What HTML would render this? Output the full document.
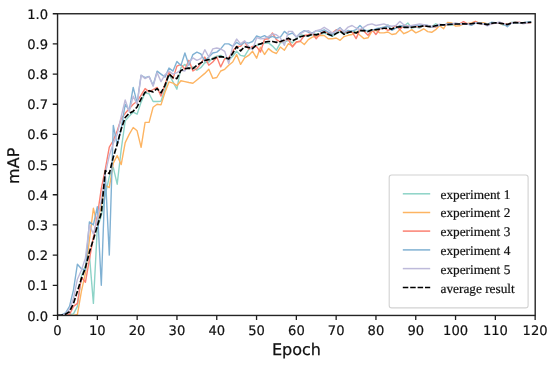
<!DOCTYPE html>
<html><head><meta charset="utf-8"><title>mAP vs Epoch</title>
<style>
html,body{margin:0;padding:0;background:#fff}
text{text-rendering:geometricPrecision}
body{width:550px;height:366px;position:relative;overflow:hidden}
</style></head><body>
<svg width="550" height="366" viewBox="0 0 550 366" style="position:absolute;left:0;top:0">
<defs><clipPath id="cp"><rect x="57.55" y="13.75" width="477.65" height="301.7"/></clipPath></defs>
<g clip-path="url(#cp)" fill="none" stroke-linejoin="round" stroke-width="1.4">
<polyline stroke="#8dd3c7" points="57.5,315.4 61.5,315.4 65.5,315.4 69.5,314.8 73.5,313.9 77.4,306.4 81.4,276.2 85.4,265.7 89.4,255.1 93.4,303.4 97.3,228.0 101.3,215.9 105.3,194.8 109.3,176.7 113.3,167.6 117.2,184.2 121.2,149.5 125.2,120.9 129.2,116.3 133.2,112.1 137.1,114.2 141.1,102.1 145.1,92.8 149.1,93.7 153.1,101.5 157.1,101.5 161.0,101.2 165.0,89.2 169.0,74.1 173.0,81.9 176.9,89.2 180.9,67.7 184.9,64.4 188.9,68.5 192.9,66.9 196.9,70.2 200.8,67.7 204.8,62.8 208.8,62.0 212.8,57.9 216.8,56.2 220.7,55.4 224.7,57.9 228.7,60.3 232.7,56.2 236.6,51.3 240.6,55.4 244.6,56.2 248.6,49.7 252.6,47.2 256.6,45.5 260.5,44.2 264.5,43.4 268.5,42.9 272.5,46.1 276.4,50.2 280.4,42.9 284.4,42.0 288.4,40.4 292.4,42.9 296.4,38.0 300.3,34.7 304.3,35.5 308.3,36.3 312.3,34.7 316.2,33.9 320.2,34.7 324.2,33.0 328.2,34.7 332.2,36.3 336.2,33.9 340.1,31.7 344.1,34.2 348.1,32.9 352.1,31.2 356.1,32.0 360.0,30.4 364.0,31.2 368.0,30.4 372.0,29.6 375.9,29.6 379.9,28.8 383.9,28.0 387.9,24.7 391.9,29.6 395.9,28.0 399.8,27.1 403.8,26.3 407.8,23.0 411.8,28.0 415.8,27.1 419.7,28.0 423.7,25.5 427.7,26.3 431.7,26.7 435.7,23.8 439.6,25.1 443.6,24.9 447.6,24.3 451.6,25.2 455.6,24.3 459.5,24.3 463.5,24.1 467.5,24.1 471.5,24.1 475.4,23.1 479.4,23.3 483.4,23.0 487.4,24.5 491.4,23.3 495.4,23.2 499.3,23.0 503.3,25.1 507.3,24.7 511.3,22.4 515.2,22.3 519.2,22.9 523.2,23.1 527.2,22.5 531.2,21.9"/>
<polyline stroke="#fdb462" points="57.5,315.4 61.5,315.4 65.5,315.4 69.5,315.4 73.5,315.4 77.4,314.5 81.4,291.3 85.4,273.2 89.4,240.0 93.4,208.3 97.3,224.9 101.3,203.8 105.3,185.7 109.3,187.5 113.3,163.1 117.2,155.5 121.2,164.6 125.2,142.6 129.2,134.4 133.2,127.5 137.1,130.8 141.1,147.4 145.1,122.4 149.1,122.4 153.1,107.3 157.1,104.3 161.0,104.9 165.0,92.2 169.0,81.9 173.0,83.1 176.9,85.7 180.9,80.8 184.9,81.6 188.9,82.5 192.9,83.3 196.9,80.0 200.8,76.7 204.8,73.4 208.8,69.3 212.8,78.4 216.8,77.5 220.7,71.0 224.7,69.3 228.7,65.2 232.7,62.0 236.6,54.6 240.6,64.4 244.6,57.9 248.6,55.4 252.6,51.3 256.6,58.2 260.5,47.1 264.5,54.5 268.5,48.6 272.5,51.9 276.4,53.5 280.4,47.0 284.4,50.2 288.4,43.7 292.4,46.1 296.4,42.0 300.3,41.2 304.3,44.5 308.3,39.6 312.3,37.1 316.2,36.3 320.2,35.5 324.2,35.5 328.2,38.8 332.2,38.8 336.2,38.0 340.1,40.3 344.1,36.6 348.1,35.3 352.1,34.5 356.1,32.0 360.0,35.3 364.0,38.6 368.0,37.8 372.0,31.2 375.9,30.4 379.9,32.9 383.9,32.9 387.9,32.0 391.9,34.5 395.9,33.7 399.8,29.6 403.8,33.7 407.8,32.0 411.8,29.6 415.8,32.9 419.7,31.2 423.7,28.8 427.7,31.6 431.7,32.3 435.7,29.7 439.6,25.6 443.6,28.7 447.6,22.4 451.6,22.9 455.6,26.1 459.5,25.8 463.5,23.8 467.5,23.5 471.5,23.0 475.4,21.5 479.4,23.2 483.4,22.7 487.4,23.8 491.4,23.4 495.4,23.0 499.3,23.3 503.3,23.7 507.3,24.3 511.3,23.0 515.2,22.7 519.2,23.0 523.2,22.8 527.2,22.8 531.2,22.5"/>
<polyline stroke="#fb8072" points="57.5,315.4 61.5,315.4 65.5,315.4 69.5,314.5 73.5,306.4 77.4,303.4 81.4,277.4 85.4,282.3 89.4,259.6 93.4,237.0 97.3,215.9 101.3,188.7 105.3,169.1 109.3,147.1 113.3,140.5 117.2,130.8 121.2,118.7 125.2,113.3 129.2,108.8 133.2,104.3 137.1,101.2 141.1,95.2 145.1,88.6 149.1,91.9 153.1,89.5 157.1,87.4 161.0,96.1 165.0,84.6 169.0,72.3 173.0,78.6 176.9,66.1 180.9,64.4 184.9,69.3 188.9,60.3 192.9,71.0 196.9,68.5 200.8,63.6 204.8,57.0 208.8,65.2 212.8,62.0 216.8,57.0 220.7,66.9 224.7,58.7 228.7,57.9 232.7,51.3 236.6,46.4 240.6,46.4 244.6,41.5 248.6,48.9 252.6,46.4 256.6,46.7 260.5,52.0 264.5,39.3 268.5,38.8 272.5,33.0 276.4,39.6 280.4,42.0 284.4,40.4 288.4,39.6 292.4,47.0 296.4,42.0 300.3,41.2 304.3,35.5 308.3,34.7 312.3,33.0 316.2,38.8 320.2,33.9 324.2,31.4 328.2,33.0 332.2,33.0 336.2,29.8 340.1,30.5 344.1,33.0 348.1,31.2 352.1,32.0 356.1,38.6 360.0,29.6 364.0,31.2 368.0,35.3 372.0,29.6 375.9,34.5 379.9,28.8 383.9,28.0 387.9,30.4 391.9,28.8 395.9,25.5 399.8,29.6 403.8,25.5 407.8,26.3 411.8,27.1 415.8,26.3 419.7,27.1 423.7,25.5 427.7,26.3 431.7,26.7 435.7,27.1 439.6,24.9 443.6,25.0 447.6,24.4 451.6,24.1 455.6,23.8 459.5,23.8 463.5,21.7 467.5,23.9 471.5,23.9 475.4,21.5 479.4,23.6 483.4,23.8 487.4,25.0 491.4,23.6 495.4,23.3 499.3,23.3 503.3,23.5 507.3,24.5 511.3,22.9 515.2,22.5 519.2,22.1 523.2,23.2 527.2,22.9 531.2,22.5"/>
<polyline stroke="#80b1d3" points="57.5,315.4 61.5,314.8 65.5,313.0 69.5,306.4 73.5,289.8 77.4,264.2 81.4,268.7 85.4,270.2 89.4,221.9 93.4,224.9 97.3,206.8 101.3,285.3 105.3,173.7 109.3,255.1 113.3,125.4 117.2,145.0 121.2,128.4 125.2,104.3 129.2,110.3 133.2,87.4 137.1,102.8 141.1,75.3 145.1,77.7 149.1,76.5 153.1,85.3 157.1,71.1 161.0,74.1 165.0,77.1 169.0,68.1 173.0,71.1 176.9,61.4 180.9,65.6 184.9,53.0 188.9,65.2 192.9,54.6 196.9,52.1 200.8,53.8 204.8,61.1 208.8,57.0 212.8,53.0 216.8,52.1 220.7,48.9 224.7,43.9 228.7,43.9 232.7,46.4 236.6,42.3 240.6,44.8 244.6,42.3 248.6,43.1 252.6,41.5 256.6,36.0 260.5,37.3 264.5,35.6 268.5,38.0 272.5,36.3 276.4,38.0 280.4,37.1 284.4,31.4 288.4,34.7 292.4,33.0 296.4,37.1 300.3,33.0 304.3,30.6 308.3,32.2 312.3,33.0 316.2,30.6 320.2,31.4 324.2,29.8 328.2,32.2 332.2,34.7 336.2,30.6 340.1,27.6 344.1,32.5 348.1,30.4 352.1,31.2 356.1,29.6 360.0,25.5 364.0,29.6 368.0,31.2 372.0,30.4 375.9,28.8 379.9,28.0 383.9,27.1 387.9,26.3 391.9,30.4 395.9,28.0 399.8,25.5 403.8,26.3 407.8,27.1 411.8,26.3 415.8,25.5 419.7,25.5 423.7,24.7 427.7,25.5 431.7,27.0 435.7,26.2 439.6,25.2 443.6,24.9 447.6,24.0 451.6,23.9 455.6,23.8 459.5,24.0 463.5,23.5 467.5,24.2 471.5,25.4 475.4,22.8 479.4,23.2 483.4,23.7 487.4,24.3 491.4,22.3 495.4,22.7 499.3,22.7 503.3,23.6 507.3,26.8 511.3,23.1 515.2,22.8 519.2,23.1 523.2,22.6 527.2,22.2 531.2,21.8"/>
<polyline stroke="#bebada" points="57.5,315.4 61.5,315.1 65.5,313.9 69.5,309.4 73.5,298.3 77.4,279.2 81.4,270.2 85.4,258.1 89.4,224.9 93.4,234.0 97.3,218.9 101.3,200.8 105.3,173.7 109.3,155.5 113.3,143.5 117.2,134.4 121.2,116.3 125.2,100.0 129.2,111.5 133.2,96.1 137.1,104.3 141.1,75.3 145.1,78.6 149.1,76.5 153.1,86.2 157.1,72.6 161.0,81.6 165.0,74.7 169.0,71.1 173.0,74.1 176.9,72.6 180.9,70.2 184.9,71.0 188.9,62.8 192.9,57.9 196.9,60.3 200.8,58.7 204.8,49.7 208.8,57.0 212.8,48.9 216.8,48.0 220.7,48.9 224.7,51.3 228.7,63.6 232.7,46.4 236.6,39.0 240.6,43.9 244.6,40.7 248.6,46.4 252.6,49.7 256.6,37.7 260.5,38.9 264.5,38.5 268.5,36.3 272.5,33.9 276.4,34.7 280.4,38.0 284.4,45.3 288.4,31.4 292.4,31.4 296.4,37.1 300.3,33.9 304.3,31.4 308.3,30.6 312.3,33.9 316.2,30.6 320.2,29.8 324.2,27.3 328.2,29.8 332.2,33.0 336.2,31.4 340.1,28.0 344.1,31.3 348.1,27.1 352.1,25.5 356.1,28.0 360.0,29.6 364.0,27.1 368.0,24.7 372.0,23.9 375.9,25.5 379.9,24.7 383.9,23.9 387.9,25.5 391.9,26.3 395.9,25.5 399.8,21.4 403.8,24.7 407.8,26.3 411.8,25.5 415.8,24.7 419.7,23.9 423.7,24.7 427.7,25.5 431.7,26.4 435.7,25.8 439.6,24.1 443.6,24.9 447.6,24.2 451.6,24.0 455.6,22.8 459.5,24.0 463.5,24.0 467.5,24.3 471.5,24.1 475.4,22.7 479.4,23.3 483.4,24.0 487.4,25.9 491.4,23.8 495.4,23.1 499.3,22.0 503.3,23.6 507.3,24.6 511.3,23.3 515.2,22.4 519.2,22.4 523.2,23.8 527.2,22.9 531.2,22.6"/>
<polyline stroke="#000" stroke-width="1.65" stroke-dasharray="5.5 1.9" points="57.5,315.4 61.5,315.1 65.5,314.2 69.5,311.8 73.5,303.4 77.4,291.3 81.4,278.6 85.4,267.8 89.4,252.1 93.4,239.4 97.3,226.1 101.3,212.9 105.3,170.6 109.3,173.7 113.3,157.1 117.2,144.4 121.2,129.0 125.2,117.5 129.2,113.3 133.2,111.2 137.1,107.0 141.1,98.8 145.1,92.2 149.1,90.7 153.1,91.9 157.1,88.6 161.0,92.8 165.0,85.3 169.0,74.1 173.0,77.7 176.9,78.6 180.9,70.5 184.9,68.7 188.9,68.1 192.9,68.7 196.9,65.3 200.8,62.9 204.8,60.5 208.8,59.6 212.8,59.0 216.8,57.2 220.7,56.6 224.7,57.2 228.7,59.0 232.7,53.3 236.6,46.6 240.6,50.9 244.6,46.6 248.6,47.5 252.6,48.4 256.6,44.8 260.5,43.9 264.5,42.1 268.5,41.5 272.5,41.5 276.4,42.4 280.4,41.5 284.4,40.0 288.4,38.2 292.4,40.6 296.4,39.1 300.3,36.7 304.3,35.8 308.3,35.8 312.3,34.3 316.2,34.9 320.2,33.4 324.2,31.9 328.2,34.3 332.2,35.8 336.2,33.4 340.1,31.2 344.1,34.3 348.1,32.5 352.1,31.6 356.1,33.1 360.0,30.6 364.0,30.6 368.0,31.6 372.0,29.7 375.9,29.7 379.9,29.1 383.9,28.2 387.9,28.2 391.9,29.1 395.9,27.3 399.8,26.7 403.8,27.3 407.8,27.3 411.8,27.3 415.8,26.7 419.7,26.7 423.7,25.8 427.7,26.4 431.7,26.7 435.7,25.8 439.6,24.9 443.6,24.9 447.6,24.6 451.6,24.3 455.6,24.0 459.5,24.0 463.5,23.7 467.5,24.0 471.5,23.7 475.4,23.1 479.4,23.4 483.4,23.7 487.4,24.6 491.4,23.4 495.4,22.8 499.3,23.1 503.3,23.7 507.3,24.6 511.3,23.1 515.2,22.5 519.2,22.8 523.2,22.8 527.2,22.5 531.2,22.2"/>
</g>
<rect x="57.55" y="13.75" width="477.65" height="301.7" fill="none" stroke="#242424" stroke-width="1.4"/>
<path d="M57.55 315.45v4.6 M97.35 315.45v4.6 M137.15 315.45v4.6 M176.95 315.45v4.6 M216.75 315.45v4.6 M256.55 315.45v4.6 M296.35 315.45v4.6 M336.15 315.45v4.6 M375.95 315.45v4.6 M415.75 315.45v4.6 M455.55 315.45v4.6 M495.35 315.45v4.6 M535.15 315.45v4.6 M57.55 315.45h-4.8 M57.55 285.28h-4.8 M57.55 255.11h-4.8 M57.55 224.94h-4.8 M57.55 194.77h-4.8 M57.55 164.60h-4.8 M57.55 134.43h-4.8 M57.55 104.26h-4.8 M57.55 74.09h-4.8 M57.55 43.92h-4.8 M57.55 13.75h-4.8" stroke="#1c1c1c" stroke-width="1.3" fill="none"/>
<rect x="389.2" y="175" width="138.9" height="132.9" rx="2.5" fill="#fff" fill-opacity="0.9" stroke="#d2d2d2" stroke-width="1.1"/>
<line x1="402.8" x2="430.2" y1="193.8" y2="193.8" stroke="#8dd3c7" stroke-width="1.5"/>
<line x1="402.8" x2="430.2" y1="212.5" y2="212.5" stroke="#fdb462" stroke-width="1.5"/>
<line x1="402.8" x2="430.2" y1="231.1" y2="231.1" stroke="#fb8072" stroke-width="1.5"/>
<line x1="402.8" x2="430.2" y1="249.9" y2="249.9" stroke="#80b1d3" stroke-width="1.5"/>
<line x1="402.8" x2="430.2" y1="268.6" y2="268.6" stroke="#bebada" stroke-width="1.5"/>
<line x1="402.8" x2="430.2" y1="287.6" y2="287.6" stroke="#000" stroke-width="1.5" stroke-dasharray="5.5 1.9"/>
<g font-family="'Liberation Serif', serif" font-size="13.3" fill="#111" stroke="#111" stroke-width="0.2">
<text x="440.5" y="198.7">experiment 1</text>
<text x="440.5" y="217.4">experiment 2</text>
<text x="440.5" y="236.0">experiment 3</text>
<text x="440.5" y="254.8">experiment 4</text>
<text x="440.5" y="273.5">experiment 5</text>
<text x="440.5" y="292.5">average result</text>
</g>
<g font-family="'DejaVu Sans', 'Liberation Sans', sans-serif" font-size="13.1" fill="#111" stroke="#111" stroke-width="0.2">
<text x="57.5" y="334.55" text-anchor="middle">0</text>
<text x="97.3" y="334.55" text-anchor="middle">10</text>
<text x="137.1" y="334.55" text-anchor="middle">20</text>
<text x="176.9" y="334.55" text-anchor="middle">30</text>
<text x="216.8" y="334.55" text-anchor="middle">40</text>
<text x="256.6" y="334.55" text-anchor="middle">50</text>
<text x="296.4" y="334.55" text-anchor="middle">60</text>
<text x="336.2" y="334.55" text-anchor="middle">70</text>
<text x="375.9" y="334.55" text-anchor="middle">80</text>
<text x="415.8" y="334.55" text-anchor="middle">90</text>
<text x="455.6" y="334.55" text-anchor="middle">100</text>
<text x="495.4" y="334.55" text-anchor="middle">110</text>
<text x="535.1" y="334.55" text-anchor="middle">120</text>
<text x="48" y="320.50" text-anchor="end">0.0</text>
<text x="48" y="290.33" text-anchor="end">0.1</text>
<text x="48" y="260.16" text-anchor="end">0.2</text>
<text x="48" y="229.99" text-anchor="end">0.3</text>
<text x="48" y="199.82" text-anchor="end">0.4</text>
<text x="48" y="169.65" text-anchor="end">0.5</text>
<text x="48" y="139.48" text-anchor="end">0.6</text>
<text x="48" y="109.31" text-anchor="end">0.7</text>
<text x="48" y="79.14" text-anchor="end">0.8</text>
<text x="48" y="48.97" text-anchor="end">0.9</text>
<text x="48" y="18.80" text-anchor="end">1.0</text>
</g>
<g font-family="'DejaVu Sans', 'Liberation Sans', sans-serif" font-size="16" fill="#111" stroke="#111" stroke-width="0.25">
<text x="296.4" y="354.5" text-anchor="middle">Epoch</text>
<text transform="translate(18.8 165.8) rotate(-90)" text-anchor="middle">mAP</text>
</g>
</svg>
</body></html>
